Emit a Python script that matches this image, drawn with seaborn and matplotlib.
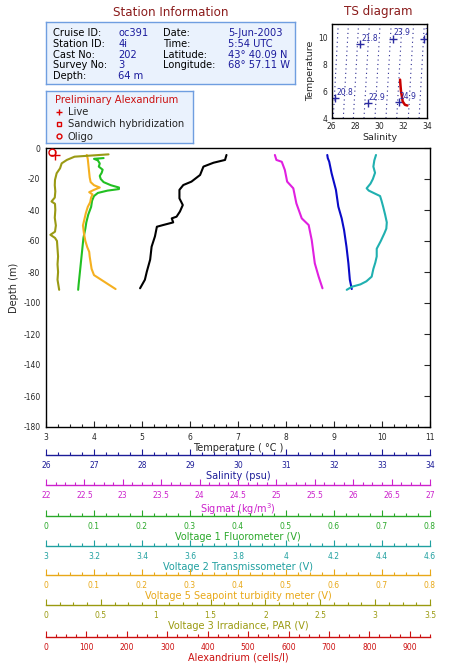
import matplotlib
matplotlib.use("Agg")
import matplotlib.pyplot as plt
from matplotlib.lines import Line2D
from matplotlib.ticker import MultipleLocator, FuncFormatter
import seaborn as sns

sns.set_style("white")
plt.rcParams['font.family'] = ['DejaVu Sans']
plt.rcParams['axes.unicode_minus'] = False

# ---- profile data (depth in m, negative down) ----
temp_depth = [-4.5, -7.7, -9.5, -12, -17.4, -21.7, -23.9, -27, -32.5, -36.8, -41, -44.3,
              -45.4, -48, -49.7, -50.8, -57, -63.7, -72, -79.8, -85, -90.5]
temp = [6.76, 6.73, 6.49, 6.28, 6.21, 6.03, 5.86, 5.78, 5.78, 5.85, 5.79, 5.72,
        5.62, 5.65, 5.44, 5.31, 5.27, 5.20, 5.17, 5.10, 5.06, 4.96]

sal_depth = [-4.5, -6.5, -8.8, -16.3, -27, -37.8, -45.4, -53, -63.7, -74.4, -85, -91]
sal = [31.86, 31.87, 31.90, 31.95, 32.04, 32.09, 32.16, 32.21, 32.26, 32.30, 32.33, 32.37]

sigmat_depth = [-4.5, -7.7, -8.9, -14.2, -21.7, -26, -35.7, -45.4, -49.7, -59.4, -74.4, -83, -90.5]
sigmat = [24.98, 25.00, 25.07, 25.11, 25.14, 25.22, 25.26, 25.33, 25.42, 25.46, 25.50, 25.55, 25.60]

fluor_depth = [-6.5, -7, -8, -10, -12, -14, -16, -18, -20, -22, -24, -25.5, -26.5, -27.5, -29,
               -31, -34, -38, -43, -48, -52, -58, -64, -70, -76, -82, -88, -91.5]
fluor = [0.120, 0.100, 0.108, 0.112, 0.110, 0.118, 0.116, 0.112, 0.114, 0.120, 0.135, 0.152,
         0.152, 0.128, 0.108, 0.100, 0.096, 0.094, 0.088, 0.084, 0.082, 0.078, 0.076, 0.074,
         0.072, 0.070, 0.068, 0.067]

trans_depth = [-4.5, -8, -12, -16, -20, -23, -26, -27.5, -29, -31, -34, -38, -43, -48, -52, -55,
               -60, -65, -70, -74, -78, -83, -86, -88, -89.5, -91.5]
trans = [4.375, 4.368, 4.364, 4.371, 4.362, 4.352, 4.336, 4.345, 4.365, 4.392, 4.398, 4.405,
         4.413, 4.420, 4.418, 4.410, 4.395, 4.378, 4.378, 4.372, 4.364, 4.357, 4.335, 4.310,
         4.275, 4.253]

turb_depth = [-4.5, -7, -10, -13, -16, -19, -22, -24, -25.5, -27, -28.5, -30, -32, -35, -38, -42,
              -46, -50, -55, -60, -64, -67, -70, -74, -78, -82, -85, -87, -89, -91]
turb = [0.085, 0.087, 0.088, 0.089, 0.090, 0.091, 0.093, 0.100, 0.112, 0.100, 0.090, 0.097,
        0.094, 0.092, 0.087, 0.083, 0.080, 0.077, 0.079, 0.082, 0.086, 0.090, 0.091, 0.093,
        0.095, 0.100, 0.115, 0.125, 0.135, 0.145]

par_depth = [-4.1, -5.6, -7.7, -9.9, -13.1, -16.3, -20.6, -24, -28, -32, -34.5, -36, -40, -45,
             -50, -54, -56, -58, -60, -65, -70, -75, -80, -85, -91.5]
par = [0.57, 0.26, 0.19, 0.143, 0.128, 0.097, 0.082, 0.080, 0.085, 0.080, 0.050, 0.082, 0.085,
       0.080, 0.090, 0.082, 0.040, 0.082, 0.100, 0.105, 0.110, 0.105, 0.110, 0.105, 0.120]

alex_live = [22]
alex_live_depth = [-4.5]
alex_oligo = [16]
alex_oligo_depth = [-3]

# ---- TS diagram data ----
ts_sal = [31.72, 31.76, 31.80, 31.88, 31.94, 32.13, 32.33]
ts_temp = [6.87, 6.4, 6.0, 5.6, 5.25, 5.0, 4.95]
ts_mark_sal = [26.3, 28.4, 29.0, 31.1, 31.6, 33.7]
ts_mark_temp = [5.5, 9.5, 5.1, 9.9, 5.2, 9.9]
ts_mark_lab = ["20.8", "21.8", "22.9", "23.9", "24.9", "25.9"]
iso_sal_lo = [26.13, 26.97, 27.81, 28.70, 29.62, 30.54, 31.44, 32.41, 33.31]
iso_sal_hi = [26.55, 27.40, 28.25, 29.15, 30.05, 30.98, 31.88, 32.85, 33.75]

info_left = [("Cruise ID:", "oc391"), ("Station ID:", "4i"), ("Cast No:", "202"),
             ("Survey No:", "3"), ("Depth:", "64 m")]
info_right = [("Date:", "5-Jun-2003"), ("Time:", "5:54 UTC"), ("Latitude:", "43° 40.09 N"),
              ("Longitude:", "68° 57.11 W")]

W, H = 450, 667
def fx(px):
    return px / W
def fy(py):
    return 1 - py / H

fmt = FuncFormatter(lambda v, p: "%g" % round(v, 4))

fig = plt.figure(figsize=(4.5, 6.67), dpi=100)

# main axes (temperature on the bottom)
ax = fig.add_axes([fx(46), fy(427), fx(430) - fx(46), fy(148) - fy(427)])
ax.set_xlim(3, 11)
ax.set_ylim(-180, 0)
ax.xaxis.set_major_locator(MultipleLocator(1))
ax.xaxis.set_minor_locator(MultipleLocator(0.25))
ax.yaxis.set_major_locator(MultipleLocator(20))
ax.xaxis.set_major_formatter(fmt)
ax.tick_params(which='both', direction='in', top=True, right=True, labelsize=5.5, pad=4)
ax.tick_params(which='major', length=4, width=0.8)
ax.tick_params(which='minor', length=2, width=0.8)
ax.set_xlabel("Temperature ( °C )", fontsize=7, labelpad=1)
ax.set_ylabel("Depth (m)", fontsize=7, labelpad=3)
for s in ax.spines.values():
    s.set_color('black')
    s.set_linewidth(1)
sns.lineplot(x=temp, y=temp_depth, sort=False, estimator=None, color='black', lw=1.5, ax=ax)


def scale_axis(offset_px, lim, major, minor, color, label):
    a = ax.twiny()
    a.set_xlim(*lim)
    a.xaxis.set_ticks_position('bottom')
    a.xaxis.set_label_position('bottom')
    a.spines['bottom'].set_position(('outward', offset_px * 0.72))
    for s in ['top', 'left', 'right']:
        a.spines[s].set_visible(False)
    a.spines['bottom'].set_color(color)
    a.spines['bottom'].set_linewidth(1)
    a.xaxis.set_major_locator(MultipleLocator(major))
    a.xaxis.set_minor_locator(MultipleLocator(minor))
    a.xaxis.set_major_formatter(fmt)
    a.tick_params(axis='x', which='both', direction='in', colors=color, labelsize=5.5, pad=4)
    a.tick_params(axis='x', which='major', length=4, width=0.8)
    a.tick_params(axis='x', which='minor', length=2, width=0.8)
    a.set_xlabel(label, color=color, fontsize=7, labelpad=1)
    return a


ax_sal = scale_axis(28, (26, 34), 1, 0.25, '#1c1c98', "Salinity (psu)")
sns.lineplot(x=sal, y=sal_depth, sort=False, estimator=None, color='#0a0ac8', lw=1.5, ax=ax_sal)

ax_sig = scale_axis(58, (22, 27), 0.5, 0.125, '#cc22cc', "Sigmat (kg/m$^3$)")
sns.lineplot(x=sigmat, y=sigmat_depth, sort=False, estimator=None, color='#e020e0', lw=1.5, ax=ax_sig)

ax_fl = scale_axis(89, (0, 0.8), 0.1, 0.025, '#2aa82a', "Voltage 1 Fluorometer (V)")
sns.lineplot(x=fluor, y=fluor_depth, sort=False, estimator=None, color='#22c022', lw=1.5, ax=ax_fl)

ax_tr = scale_axis(119, (3, 4.6), 0.2, 0.05, '#20a0a0', "Voltage 2 Transmissometer (V)")
sns.lineplot(x=trans, y=trans_depth, sort=False, estimator=None, color='#20b0b0', lw=1.5, ax=ax_tr)

ax_tu = scale_axis(148, (0, 0.8), 0.1, 0.025, '#e8a818', "Voltage 5 Seapoint turbidity meter (V)")
sns.lineplot(x=turb, y=turb_depth, sort=False, estimator=None, color='#f5b020', lw=1.5, ax=ax_tu)

ax_par = scale_axis(178, (0, 3.5), 0.5, 0.125, '#9a9a10', "Voltage 3 Irradiance, PAR (V)")
sns.lineplot(x=par, y=par_depth, sort=False, estimator=None, color='#9a9a14', lw=1.5, ax=ax_par)

ax_al = scale_axis(210, (0, 950), 100, 25, '#cc1010', "Alexandrium (cells/l)")
sns.scatterplot(x=alex_live, y=alex_live_depth, marker='+', color='#dd0000', s=45,
                linewidth=1, ax=ax_al)
sns.scatterplot(x=alex_oligo, y=alex_oligo_depth, marker='o', facecolor='none',
                edgecolor='#dd0000', s=25, linewidth=1, ax=ax_al)


def blue_box(left, top, right, bottom):
    b = fig.add_axes([fx(left), fy(bottom), fx(right) - fx(left), fy(top) - fy(bottom)])
    b.set_facecolor('#eaf2fd')
    b.set_xticks([])
    b.set_yticks([])
    for s in b.spines.values():
        s.set_color('#6f9ee0')
        s.set_linewidth(1)
    return b


# ---- station information box ----
blue_box(46, 21.7, 295, 84.3)
fig.text(fx(171), fy(12), "Station Information", color='#8b1c1c', fontsize=8.6,
         ha='center', va='center')
for i, (k, v) in enumerate(info_left):
    y = fy(32.7 + i * 10.9)
    fig.text(fx(53), y, k, fontsize=7.1, color='black', va='center')
    fig.text(fx(118), y, v, fontsize=7.1, color='#1a1a9c', va='center')
for i, (k, v) in enumerate(info_right):
    y = fy(32.7 + i * 10.9)
    fig.text(fx(163), y, k, fontsize=7.1, color='black', va='center')
    fig.text(fx(228), y, v, fontsize=7.1, color='#1a1a9c', va='center')

# ---- Alexandrium legend ----
blue_box(46, 91, 193, 143.3)
red = '#dd0000'
handles = [Line2D([], [], ls='none', marker='+', color=red, ms=5, mew=1),
           Line2D([], [], ls='none', marker='s', mfc='none', mec=red, ms=3.5, mew=1),
           Line2D([], [], ls='none', marker='o', mfc='none', mec=red, ms=3.5, mew=1)]
leg = fig.legend(handles, ["Live", "Sandwich hybridization", "Oligo"],
                 title="Preliminary Alexandrium", loc='upper left',
                 bbox_to_anchor=(fx(52), fy(92)), frameon=False, fontsize=7.2,
                 title_fontsize=7.2, alignment='left', handlelength=0.7, handletextpad=0.6,
                 labelspacing=0.22, borderpad=0.3, borderaxespad=0)
leg.get_title().set_color('#cc1111')

# ---- TS diagram ----
ts = fig.add_axes([fx(331.7), fy(118.3), fx(427.3) - fx(331.7), fy(24) - fy(118.3)])
ts.set_xlim(26, 34)
ts.set_ylim(4, 11)
ts.xaxis.set_major_locator(MultipleLocator(2))
ts.yaxis.set_major_locator(MultipleLocator(2))
ts.tick_params(direction='in', length=2, labelsize=5.5, pad=3)
for s in ts.spines.values():
    s.set_color('black')
    s.set_linewidth(1)
for lo, hi in zip(iso_sal_lo, iso_sal_hi):
    ts.plot([lo, hi], [4, 11], ls=(0, (1, 3)), color='#2a2a90', lw=0.8)
sns.scatterplot(x=ts_mark_sal, y=ts_mark_temp, marker='+', color='#2a2aa0', s=30,
                linewidth=1, ax=ts)
for s_, t_, lab in zip(ts_mark_sal, ts_mark_temp, ts_mark_lab):
    ts.text(s_ + 0.1, t_ + 0.45, lab, fontsize=5.5, color='#2a2aa0', va='center',
            clip_on=True)
sns.lineplot(x=ts_sal, y=ts_temp, sort=False, estimator=None, color='#c80000', lw=1.8, ax=ts)
ts.set_xlabel("Salinity", fontsize=6.8, labelpad=1)
ts.set_ylabel("Temperature", fontsize=6.8, labelpad=2)
fig.text(fx(378), fy(12), "TS diagram", color='#8b1c1c', fontsize=8.6, ha='center', va='center')

fig.savefig("out.png", dpi=100)
